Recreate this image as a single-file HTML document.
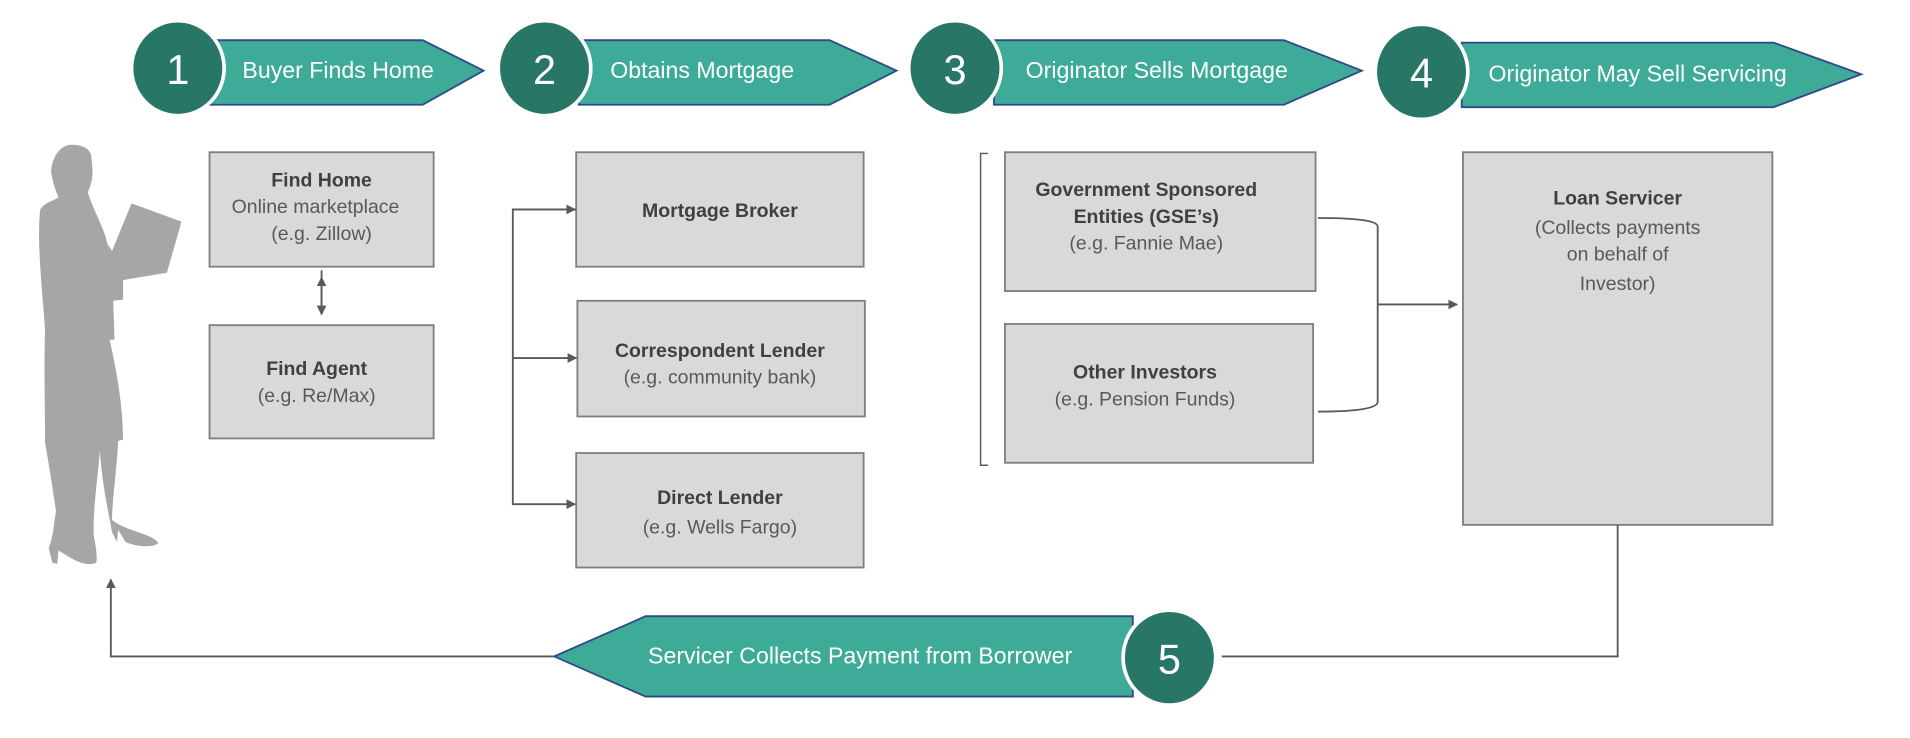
<!DOCTYPE html>
<html><head><meta charset="utf-8"><style>
html,body{margin:0;padding:0;background:#fff;}
svg{display:block;}
.t{font-family:"Liberation Sans",Arial,sans-serif;}
.h{font-family:"Liberation Sans Narrow","Liberation Sans",sans-serif;fill:#fff;font-size:19px;}
.b{font-weight:bold;fill:#404040;font-size:16px;}
.s{fill:#595959;font-size:16px;}
</style></head><body>
<svg width="1910" height="738" viewBox="0 0 1568 606" preserveAspectRatio="none" xmlns="http://www.w3.org/2000/svg">
<defs>
<marker id="a" markerWidth="8" markerHeight="8" refX="7" refY="4" orient="auto" markerUnits="userSpaceOnUse"><path d="M0,0 L8,4 L0,8z" fill="#595959"/></marker>
</defs>
<g stroke="#2f4a8a" stroke-width="1.5" fill="#3dab97">
<path d="M170,33 H347 L397,58 L347,86 H170z"/>
<path d="M475,33 H681 L736,58 L681,86 H475z"/>
<path d="M816,33 H1054 L1118,58 L1054,86 H816z"/>
<path d="M1200,35 H1456 L1528,61 L1456,88 H1200z"/>
<path d="M930,506 H530 L455,539 L530,572 H930z"/>
</g>
<g fill="#287766" stroke="#fff" stroke-width="3">
<ellipse cx="146" cy="56" rx="38" ry="39"/>
<ellipse cx="447" cy="56" rx="38" ry="39"/>
<ellipse cx="784" cy="56" rx="38" ry="39"/>
<ellipse cx="1167" cy="59" rx="38" ry="39"/>
<ellipse cx="960" cy="540" rx="38" ry="39"/>
</g>
<g class="t" fill="#fff" font-size="34" text-anchor="middle">
<text x="146" y="69" fill="#fff">1</text><text x="447" y="69" fill="#fff">2</text><text x="784" y="69" fill="#fff">3</text><text x="1167" y="72" fill="#fff">4</text><text x="960" y="553" fill="#fff">5</text>
</g>
<text class="h" x="199" y="64">Buyer Finds Home</text>
<text class="h" x="501" y="64">Obtains Mortgage</text>
<text class="h" x="842" y="64">Originator Sells Mortgage</text>
<text class="h" x="1222" y="67">Originator May Sell Servicing</text>
<text class="h" x="532" y="545">Servicer Collects Payment from Borrower</text>

<g fill="#d9d9d9" stroke="#7f7f7f" stroke-width="1.5">
<rect x="172" y="125" width="184" height="94"/>
<rect x="172" y="267" width="184" height="93"/>
<rect x="473" y="125" width="236" height="94"/>
<rect x="474" y="247" width="236" height="95"/>
<rect x="473" y="372" width="236" height="94"/>
<rect x="825" y="125" width="255" height="114"/>
<rect x="825" y="266" width="253" height="114"/>
<rect x="1201" y="125" width="254" height="306"/>
</g>
<g class="t" text-anchor="middle">
<text class="b" x="264" y="153">Find Home</text>
<text class="s" x="259" y="175">Online marketplace</text>
<text class="s" x="264" y="197">(e.g. Zillow)</text>
<text class="b" x="260" y="308">Find Agent</text>
<text class="s" x="260" y="330">(e.g. Re/Max)</text>
<text class="b" x="591" y="178">Mortgage Broker</text>
<text class="b" x="591" y="293">Correspondent Lender</text>
<text class="s" x="591" y="315">(e.g. community bank)</text>
<text class="b" x="591" y="414">Direct Lender</text>
<text class="s" x="591" y="438">(e.g. Wells Fargo)</text>
<text class="b" x="941" y="161">Government Sponsored</text>
<text class="b" x="941" y="183">Entities (GSE’s)</text>
<text class="s" x="941" y="205">(e.g. Fannie Mae)</text>
<text class="b" x="940" y="311">Other Investors</text>
<text class="s" x="940" y="333">(e.g. Pension Funds)</text>
<text class="b" x="1328" y="168">Loan Servicer</text>
<text class="s" x="1328" y="192">(Collects payments</text>
<text class="s" x="1328" y="214">on behalf of</text>
<text class="s" x="1328" y="238">Investor)</text>
</g>
<g stroke="#595959" stroke-width="1.5" fill="none">
<line x1="264" y1="229" x2="264" y2="222" />
<path d="M264,258 V228" marker-end="url(#a)"/>
<path d="M264,228 V258" marker-end="url(#a)"/>
<path d="M473,172 H421 V414 H472" marker-end="url(#a)"/>
<path d="M421,172 H472" marker-end="url(#a)"/>
<path d="M421,294 H473" marker-end="url(#a)"/>
<path d="M811,126 H805 V382 H811" stroke-width="1.2"/>
<path d="M1082,179 Q1131,179 1131,186 V330 Q1131,338 1082,338"/>
<path d="M1131,250 H1196" marker-end="url(#a)"/>
<path d="M1328,431 V539 H1003"/>
<path d="M455,539 H91 V476" marker-end="url(#a)"/>
</g>
<path fill="#a6a6a6" d="M57,119 C66,118 75,122 75,129 L76,140 C76,148 74,154 72,158 C78,176 86,188 88,200 L92,206 L108,167 L149,182 L137,224 L101,230 L101,246 L93,247 L94,279 L90,279 C96,305 101,335 101,361 L97,362 C96,385 92,410 92,427 C105,437 125,438 130,446 C126,450 112,449 103,445 L97,435 L96,445 L92,437 C90,425 84,400 82,370 C80,395 76,420 77,440 C79,450 80,458 79,462 C73,465 64,462 56,457 L48,452 L47,463 L43,462 L40,450 C44,440 44,430 46,420 C43,400 40,380 37,364 C37,335 36,300 37,271 C35,240 30,200 33,172 C37,166 44,165 48,162 C45,155 42,145 42,140 C43,128 50,120 57,119z"/>
</svg>
</body></html>
